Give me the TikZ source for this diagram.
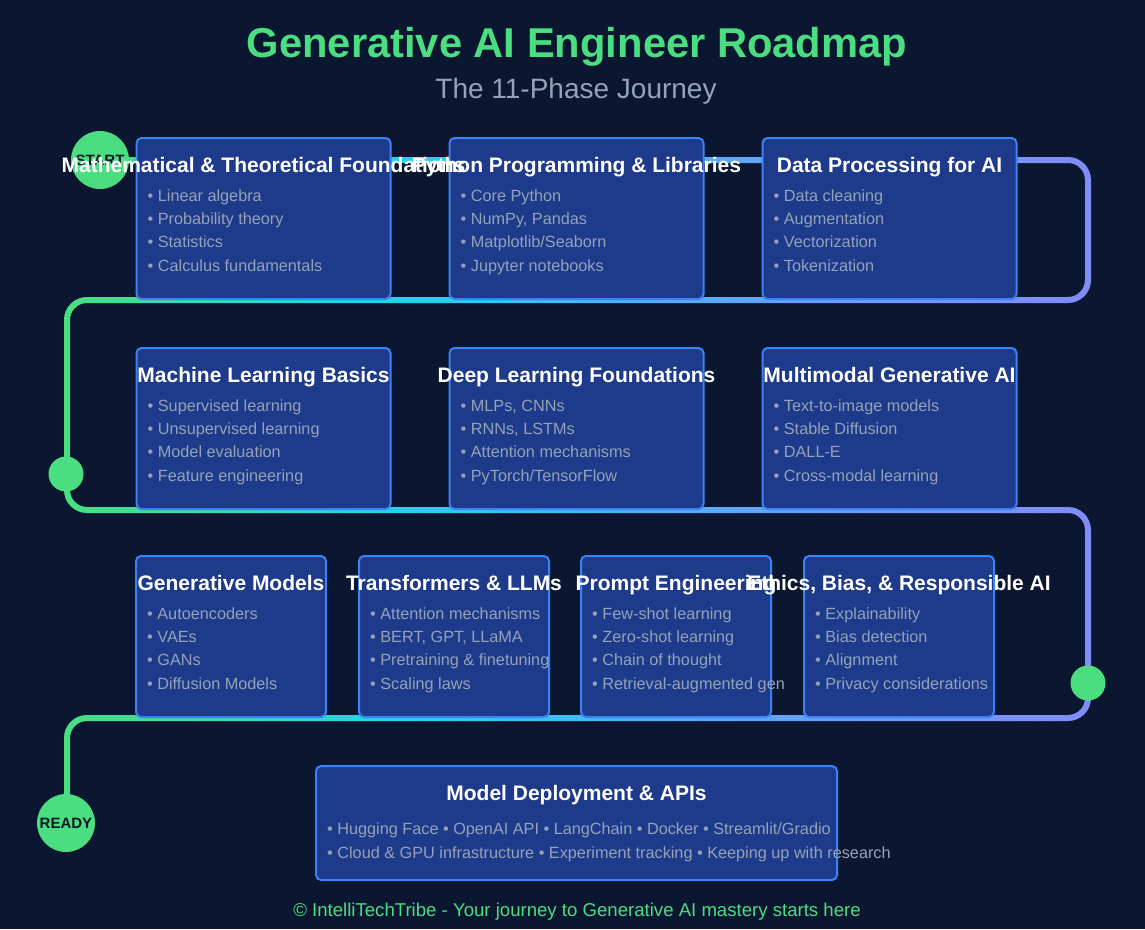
\documentclass[tikz,border=0pt]{standalone}
\usepackage{fontspec}
\setmainfont{Liberation Sans}
\usetikzlibrary{positioning}

\definecolor{pagebg}{HTML}{0B1730}
\definecolor{boxfill}{HTML}{1E3A8A}
\definecolor{boxline}{HTML}{3B82F6}
\definecolor{mint}{HTML}{4ADE80}
\definecolor{slate}{HTML}{94A3B8}
\definecolor{inkdark}{HTML}{0F172A}
\definecolor{stopA}{HTML}{4ADE80}
\definecolor{stopB}{HTML}{22D3EE}
\definecolor{stopC}{HTML}{60A5FA}
\definecolor{stopD}{HTML}{818CF8}

% the winding road behind the boxes
\newcommand\roadpath{(100,160) -- (1088,160) -- (1088,300) -- (67,300) -- (67,510)
  -- (1088,510) -- (1088,718) -- (67,718) -- (67,823)}

\begin{document}
\begin{tikzpicture}[
    x=1pt, y=-1pt,
    node distance=47pt and 57pt,
    road/.style={line width=6pt, rounded corners=20pt},
    phase/.style={draw=boxline, line width=2pt, fill=boxfill, rounded corners=5pt,
      minimum width=254pt, minimum height=161pt, inner sep=0pt},
    narrow/.style={phase, minimum width=190pt},
    heading/.style={font=\bfseries\fontsize{21}{24}\selectfont, text=white, anchor=base, inner sep=0pt},
    items/.style={font=\fontsize{16.25}{23.3}\selectfont, text=slate, align=left, anchor=base west, inner sep=0pt},
    dot/.style={circle, fill=mint, inner sep=0pt, minimum size=35pt},
    endpoint/.style={circle, fill=mint, inner sep=0pt, minimum size=58pt,
      font=\bfseries\fontsize{15}{18}\selectfont, text=inkdark}
]

% Background
\useasboundingbox[fill=pagebg] (0,0) rectangle (1145,929);

% Road, coloured strip by strip from green to indigo
\foreach \sx in {55,65,...,1095}{
  \pgfmathsetmacro\gpos{max(0,min(2.999,(\sx+5-65)/1023*3))}
  \pgfmathtruncatemacro\gseg{floor(\gpos)}
  \pgfmathsetmacro\gpct{100*(1-\gpos+\gseg)}
  \ifcase\gseg \colorlet{segcol}{stopA!\gpct!stopB}\or \colorlet{segcol}{stopB!\gpct!stopC}\else \colorlet{segcol}{stopC!\gpct!stopD}\fi
  \begin{scope}
    \clip (\sx,120) rectangle (\sx+10.6,860);
    \draw[road, segcol] \roadpath;
  \end{scope}
}

% Milestones
\node[endpoint] (start) at (100,160) {START};
\node[dot] (turnA) at (66,474) {};
\node[dot] (turnB) at (1088,683) {};
\node[endpoint] (ready) at (66,823) {READY};

% Header
\node[font=\bfseries\fontsize{41.7}{48}\selectfont, text=mint, anchor=base] (title) at (577,57) {Generative AI Engineer Roadmap};
\node[font=\fontsize{28}{32}\selectfont, text=slate, anchor=base] (subtitle) at (576,98) {The 11-Phase Journey};

% Boxes
\node[phase] (math) at (263.5,218.5) {};
\node[phase, right=of math] (python) {};
\node[phase, right=of python] (data) {};
\node[phase, below=of math] (ml) {};
\node[phase, below=of python] (dl) {};
\node[phase, below=of data] (multi) {};
\node[narrow] (gen) at (231,636.5) {};
\node[narrow, right=31pt of gen] (llm) {};
\node[narrow, right=30pt of llm] (prompt) {};
\node[narrow, right=31pt of prompt] (ethics) {};
\node[phase, minimum width=521pt, minimum height=114pt] (deploy) at (576.5,823) {};

% Box texts (items anchored on their last line)
\node[heading] (mathT) at ([yshift=-35pt]math.north) {Mathematical \& Theoretical Foundations};
\node[items] (mathL) at ([xshift=12pt, yshift=-134pt]math.north west) {• Linear algebra\\• Probability theory\\• Statistics\\• Calculus fundamentals};
\node[heading] (pythonT) at ([yshift=-35pt]python.north) {Python Programming \& Libraries};
\node[items] (pythonL) at ([xshift=12pt, yshift=-134pt]python.north west) {• Core Python\\• NumPy, Pandas\\• Matplotlib/Seaborn\\• Jupyter notebooks};
\node[heading] (dataT) at ([yshift=-35pt]data.north) {Data Processing for AI};
\node[items] (dataL) at ([xshift=12pt, yshift=-134pt]data.north west) {• Data cleaning\\• Augmentation\\• Vectorization\\• Tokenization};

\node[heading] (mlT) at ([yshift=-35pt]ml.north) {Machine Learning Basics};
\node[items] (mlL) at ([xshift=12pt, yshift=-134pt]ml.north west) {• Supervised learning\\• Unsupervised learning\\• Model evaluation\\• Feature engineering};
\node[heading] (dlT) at ([yshift=-35pt]dl.north) {Deep Learning Foundations};
\node[items] (dlL) at ([xshift=12pt, yshift=-134pt]dl.north west) {• MLPs, CNNs\\• RNNs, LSTMs\\• Attention mechanisms\\• PyTorch/TensorFlow};
\node[heading] (multiT) at ([yshift=-35pt]multi.north) {Multimodal Generative AI};
\node[items] (multiL) at ([xshift=12pt, yshift=-134pt]multi.north west) {• Text-to-image models\\• Stable Diffusion\\• DALL-E\\• Cross-modal learning};

\node[heading] (genT) at ([yshift=-35pt]gen.north) {Generative Models};
\node[items] (genL) at ([xshift=12pt, yshift=-134pt]gen.north west) {• Autoencoders\\• VAEs\\• GANs\\• Diffusion Models};
\node[heading] (llmT) at ([yshift=-35pt]llm.north) {Transformers \& LLMs};
\node[items] (llmL) at ([xshift=12pt, yshift=-134pt]llm.north west) {• Attention mechanisms\\• BERT, GPT, LLaMA\\• Pretraining \& finetuning\\• Scaling laws};
\node[heading] (promptT) at ([yshift=-35pt]prompt.north) {Prompt Engineering};
\node[items] (promptL) at ([xshift=12pt, yshift=-134pt]prompt.north west) {• Few-shot learning\\• Zero-shot learning\\• Chain of thought\\• Retrieval-augmented gen};
\node[heading] (ethicsT) at ([yshift=-35pt]ethics.north) {Ethics, Bias, \& Responsible AI};
\node[items] (ethicsL) at ([xshift=12pt, yshift=-134pt]ethics.north west) {• Explainability\\• Bias detection\\• Alignment\\• Privacy considerations};

\node[heading] (deployT) at ([yshift=-35pt]deploy.north) {Model Deployment \& APIs};
\node[items] (deployL) at ([xshift=12pt, yshift=-93pt]deploy.north west) {• Hugging Face • OpenAI API • LangChain • Docker • Streamlit/Gradio\\• Cloud \& GPU infrastructure • Experiment tracking • Keeping up with research};

% Footer
\node[font=\fontsize{18.6}{22}\selectfont, text=mint, anchor=base] (footer) at (577,916) {© IntelliTechTribe - Your journey to Generative AI mastery starts here};

\end{tikzpicture}
\end{document}
